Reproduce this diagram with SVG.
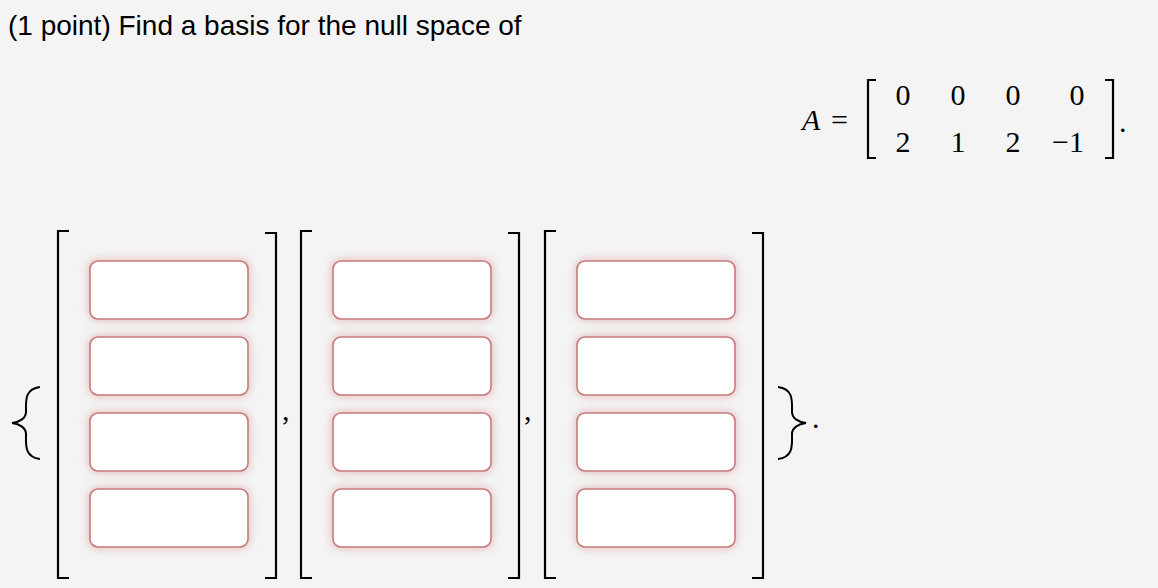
<svg xmlns="http://www.w3.org/2000/svg" width="1158" height="588" viewBox="0 0 1158 588">
<defs>
<filter id="glow" x="-20%" y="-30%" width="140%" height="160%"><feGaussianBlur stdDeviation="4"/></filter>
<g id="box"><rect x="-2" y="-2" width="162" height="62" rx="9" fill="#d9a0a0" opacity="0.6" filter="url(#glow)"/><rect x="0" y="0" width="158" height="58" rx="8" fill="#fff" stroke="#c87a78" stroke-width="1.6"/></g>
<g id="col">
<path d="M69 231 H58 V578 H69" fill="none" stroke="#000" stroke-width="2.2"/>
<path d="M265 233 H276 V578 H265" fill="none" stroke="#000" stroke-width="2.2"/>
<use href="#box" x="90" y="261"/><use href="#box" x="90" y="337"/><use href="#box" x="90" y="413"/><use href="#box" x="90" y="489"/>
</g>
</defs>
<style>.t{font-family:"Liberation Sans",Arial,sans-serif;font-size:28px;fill:#000}.m{font-family:"Liberation Serif","Times New Roman",serif;font-size:30px;fill:#000}</style>
<rect width="1158" height="588" fill="#f4f4f4"/>
<text class="t" x="8" y="35">(1 point) Find a basis for the null space of</text>
<g id="matrix">
<text class="m" x="802" y="130" font-style="italic">A</text>
<text class="m" x="831" y="130">=</text>
<path d="M876 80 H868 V158 H876" fill="none" stroke="#000" stroke-width="2.2"/>
<path d="M1105 80 H1113 V158 H1105" fill="none" stroke="#000" stroke-width="2.2"/>
<text class="m" text-anchor="middle" x="903" y="105">0</text><text class="m" text-anchor="middle" x="958" y="105">0</text><text class="m" text-anchor="middle" x="1013" y="105">0</text><text class="m" text-anchor="middle" x="1077" y="105">0</text>
<text class="m" text-anchor="middle" x="903" y="152">2</text><text class="m" text-anchor="middle" x="958" y="152">1</text><text class="m" text-anchor="middle" x="1013" y="152">2</text><text class="m" text-anchor="middle" x="1068" y="152">−1</text>
<text class="m" x="1119" y="132">.</text>
</g>
<path d="M40 387 C24 389 26 402 26 412 C26 418 20 422 12 423 C20 424 26 428 26 434 C26 444 24 457 40 459" fill="none" stroke="#000" stroke-width="2"/>
<use href="#col"/>
<use href="#col" x="243"/>
<use href="#col" x="487"/>
<text class="m" x="282" y="420">,</text>
<text class="m" x="524" y="420">,</text>
<path d="M778 387 C794 389 792 402 792 412 C792 418 798 422 806 423 C798 424 792 428 792 434 C792 444 794 457 778 459" fill="none" stroke="#000" stroke-width="2"/>
<text class="m" x="812" y="428">.</text>
</svg>
